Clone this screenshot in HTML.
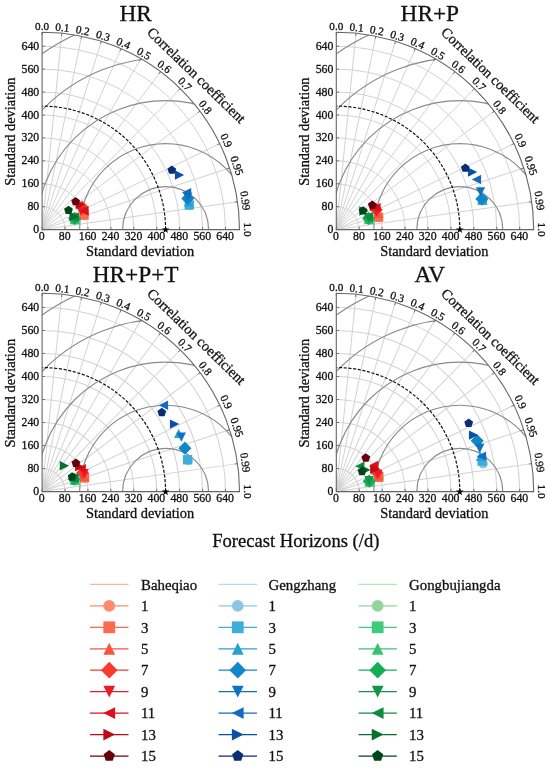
<!DOCTYPE html>
<html lang="en"><head><meta charset="utf-8"><title>Taylor diagrams - Forecast Horizons</title>
<style>html,body{margin:0;padding:0;background:#fff}body{width:550px;height:768px;overflow:hidden}svg{display:block}text{font-family:'Liberation Serif','Times New Roman',serif;stroke:#111;stroke-width:0.3px}</style></head><body>
<svg width="550" height="768" viewBox="0 0 550 768">
<rect width="550" height="768" fill="#fff"/>
<g>
<clipPath id="c0"><path d="M42.1 229.6 L239.5 229.6 A197.4 197.4 0 0 0 42.1 32.2 Z"/></clipPath>
<g clip-path="url(#c0)" fill="none">
<path d="M65.02 229.6 A22.92 22.92 0 0 0 42.1 206.68 M87.94 229.6 A45.84 45.84 0 0 0 42.1 183.76 M110.86 229.6 A68.76 68.76 0 0 0 42.1 160.84 M133.78 229.6 A91.68 91.68 0 0 0 42.1 137.92 M156.7 229.6 A114.6 114.6 0 0 0 42.1 115 M179.62 229.6 A137.52 137.52 0 0 0 42.1 92.08 M202.54 229.6 A160.44 160.44 0 0 0 42.1 69.16 M225.46 229.6 A183.36 183.36 0 0 0 42.1 46.24 M42.1 229.6 L61.84 33.19 M42.1 229.6 L81.58 36.19 M42.1 229.6 L101.32 41.29 M42.1 229.6 L121.06 48.68 M42.1 229.6 L140.8 58.65 M42.1 229.6 L160.54 71.68 M42.1 229.6 L180.28 88.63 M42.1 229.6 L200.02 111.16 M42.1 229.6 L219.76 143.56 M42.1 229.6 L229.63 167.96 M42.1 229.6 L237.53 201.75" stroke="#d2d2d2" stroke-width="1.0"/>
<path d="M208.56 229.6 A42.97 42.97 0 0 0 122.61 229.6 M251.53 229.6 A85.95 85.95 0 0 0 79.63 229.6 M294.51 229.6 A128.92 128.92 0 0 0 36.66 229.6 M337.48 229.6 A171.9 171.9 0 0 0 -6.32 229.6 M380.46 229.6 A214.87 214.87 0 0 0 -49.29 229.6" stroke="#8a8a8a" stroke-width="1.15"/>
<path d="M165.58 229.6 A123.48 123.48 0 0 0 42.1 106.12" stroke="#111" stroke-width="1.2" stroke-dasharray="3.1 1.6"/>
</g>
<circle cx="84" cy="215.3" r="4.65" fill="#fb8c6c"/>
<rect x="79.4" y="210.5" width="9.3" height="9.3" fill="#fc6b4d"/>
<polygon points="84.05,205.2 88.7,214.5 79.4,214.5" fill="#f8543e"/>
<polygon points="82.1,200.52 88.68,207.1 82.1,213.68 75.52,207.1" fill="#f43b2d"/>
<polygon points="81.05,215.8 85.7,206.5 76.4,206.5" fill="#ec1c24"/>
<polygon points="79.35,211 88.65,206.35 88.65,215.65" fill="#dd0f1c"/>
<polygon points="84.95,204.6 75.65,199.95 75.65,209.25" fill="#bd0c16"/>
<polygon points="75.6,196.95 80.02,200.16 78.33,205.36 72.87,205.36 71.18,200.16" fill="#67000d"/>
<circle cx="189.4" cy="205.5" r="4.65" fill="#8ec6e2"/>
<rect x="184.65" y="200.35" width="9.3" height="9.3" fill="#3dadda"/>
<polygon points="188.5,197.55 193.15,206.85 183.85,206.85" fill="#2a9fd3"/>
<polygon points="187.8,192.02 194.38,198.6 187.8,205.18 181.22,198.6" fill="#1088c7"/>
<polygon points="187.7,201.95 192.35,192.65 183.05,192.65" fill="#0f72c0"/>
<polygon points="181.95,192.6 191.25,187.95 191.25,197.25" fill="#136bbd"/>
<polygon points="184.15,175 174.85,170.35 174.85,179.65" fill="#0a4fa6"/>
<polygon points="171.8,165.45 176.22,168.66 174.53,173.86 169.07,173.86 167.38,168.66" fill="#0a2d73"/>
<circle cx="75" cy="220.2" r="4.65" fill="#90d69a"/>
<rect x="70.25" y="214.95" width="9.3" height="9.3" fill="#40cb7c"/>
<polygon points="74.8,214.35 79.45,223.65 70.15,223.65" fill="#34c472"/>
<polygon points="74.6,211.82 81.18,218.4 74.6,224.98 68.02,218.4" fill="#14ae56"/>
<polygon points="74.5,222.45 79.15,213.15 69.85,213.15" fill="#12954a"/>
<polygon points="69.65,217.2 78.95,212.55 78.95,221.85" fill="#0f8840"/>
<polygon points="78.75,216.6 69.45,211.95 69.45,221.25" fill="#07702e"/>
<polygon points="68.5,205.65 72.92,208.86 71.23,214.06 65.77,214.06 64.08,208.86" fill="#00441b"/>
<path d="M42.1 32.2 L42.1 229.6 L239.5 229.6 A197.4 197.4 0 0 0 42.1 32.2" fill="none" stroke="#666" stroke-width="1.1"/>
<path d="M42.1 229.6 v-2.8 M42.1 229.6 h2.8 M65.02 229.6 v-2.8 M42.1 206.68 h2.8 M87.94 229.6 v-2.8 M42.1 183.76 h2.8 M110.86 229.6 v-2.8 M42.1 160.84 h2.8 M133.78 229.6 v-2.8 M42.1 137.92 h2.8 M156.7 229.6 v-2.8 M42.1 115 h2.8 M179.62 229.6 v-2.8 M42.1 92.08 h2.8 M202.54 229.6 v-2.8 M42.1 69.16 h2.8 M225.46 229.6 v-2.8 M42.1 46.24 h2.8 M42.1 32.2 L42.1 35 M61.84 33.19 L61.56 35.98 M81.58 36.19 L81.02 38.93 M101.32 41.29 L100.48 43.96 M121.06 48.68 L119.94 51.25 M140.8 58.65 L139.4 61.07 M160.54 71.68 L158.86 73.92 M180.28 88.63 L178.32 90.63 M200.02 111.16 L197.78 112.84 M219.76 143.56 L217.24 144.78 M229.63 167.96 L226.97 168.84 M237.53 201.75 L234.75 202.15 M239.5 229.6 L236.7 229.6" fill="none" stroke="#646464" stroke-width="0.9"/>
<polygon points="165.58,225.7 166.5,228.53 169.48,228.53 167.07,230.28 167.99,233.12 165.58,231.37 163.17,233.12 164.09,230.28 161.68,228.53 164.66,228.53" fill="#000"/>
<g font-size="11.8" fill="#111">
<text x="41.8" y="240.2" text-anchor="middle">0</text>
<text x="39.2" y="233.1" text-anchor="end">0</text>
<text x="64.72" y="240.2" text-anchor="middle">80</text>
<text x="39.2" y="210.18" text-anchor="end">80</text>
<text x="87.64" y="240.2" text-anchor="middle">160</text>
<text x="39.2" y="187.26" text-anchor="end">160</text>
<text x="110.56" y="240.2" text-anchor="middle">240</text>
<text x="39.2" y="164.34" text-anchor="end">240</text>
<text x="133.48" y="240.2" text-anchor="middle">320</text>
<text x="39.2" y="141.42" text-anchor="end">320</text>
<text x="156.4" y="240.2" text-anchor="middle">400</text>
<text x="39.2" y="118.5" text-anchor="end">400</text>
<text x="179.32" y="240.2" text-anchor="middle">480</text>
<text x="39.2" y="95.58" text-anchor="end">480</text>
<text x="202.24" y="240.2" text-anchor="middle">560</text>
<text x="39.2" y="72.66" text-anchor="end">560</text>
<text x="225.16" y="240.2" text-anchor="middle">640</text>
<text x="39.2" y="49.74" text-anchor="end">640</text>
</g>
<g font-size="11.2" fill="#111" text-anchor="middle">
<text transform="translate(42.1 30.2) rotate(0)" x="0" y="0">0.0</text>
<text transform="translate(62.04 31.2) rotate(5.74)" x="0" y="0">0.1</text>
<text transform="translate(81.98 34.21) rotate(11.54)" x="0" y="0">0.2</text>
<text transform="translate(101.94 39.33) rotate(17.46)" x="0" y="0">0.3</text>
<text transform="translate(121.92 46.72) rotate(23.58)" x="0" y="0">0.4</text>
<text transform="translate(141.94 56.68) rotate(30)" x="0" y="0">0.5</text>
<text transform="translate(162.03 69.7) rotate(36.87)" x="0" y="0">0.6</text>
<text transform="translate(182.21 86.66) rotate(44.43)" x="0" y="0">0.7</text>
<text transform="translate(202.52 109.28) rotate(53.13)" x="0" y="0">0.8</text>
<text transform="translate(223 141.98) rotate(64.16)" x="0" y="0">0.9</text>
<text transform="translate(233.32 166.75) rotate(71.81)" x="0" y="0">0.95</text>
<text transform="translate(241.62 201.17) rotate(81.89)" x="0" y="0">0.99</text>
<text transform="translate(243.7 229.6) rotate(90)" x="0" y="0">1.0</text>
</g>
<text x="140.1" y="255.6" font-size="14.4" text-anchor="middle" fill="#111">Standard deviation</text>
<text transform="translate(15.1 131.6) rotate(-90)" font-size="14.4" text-anchor="middle" fill="#111">Standard deviation</text>
<text transform="translate(193.07 78.63) rotate(44)" font-size="14.4" text-anchor="middle" fill="#111">Correlation coefficient</text>
<text x="135.6" y="20.7" font-size="23.3" text-anchor="middle" fill="#111">HR</text>
</g>
<g>
<clipPath id="c1"><path d="M336.3 229.6 L533.7 229.6 A197.4 197.4 0 0 0 336.3 32.2 Z"/></clipPath>
<g clip-path="url(#c1)" fill="none">
<path d="M359.22 229.6 A22.92 22.92 0 0 0 336.3 206.68 M382.14 229.6 A45.84 45.84 0 0 0 336.3 183.76 M405.06 229.6 A68.76 68.76 0 0 0 336.3 160.84 M427.98 229.6 A91.68 91.68 0 0 0 336.3 137.92 M450.9 229.6 A114.6 114.6 0 0 0 336.3 115 M473.82 229.6 A137.52 137.52 0 0 0 336.3 92.08 M496.74 229.6 A160.44 160.44 0 0 0 336.3 69.16 M519.66 229.6 A183.36 183.36 0 0 0 336.3 46.24 M336.3 229.6 L356.04 33.19 M336.3 229.6 L375.78 36.19 M336.3 229.6 L395.52 41.29 M336.3 229.6 L415.26 48.68 M336.3 229.6 L435 58.65 M336.3 229.6 L454.74 71.68 M336.3 229.6 L474.48 88.63 M336.3 229.6 L494.22 111.16 M336.3 229.6 L513.96 143.56 M336.3 229.6 L523.83 167.96 M336.3 229.6 L531.73 201.75" stroke="#d2d2d2" stroke-width="1.0"/>
<path d="M502.76 229.6 A42.97 42.97 0 0 0 416.81 229.6 M545.73 229.6 A85.95 85.95 0 0 0 373.83 229.6 M588.71 229.6 A128.92 128.92 0 0 0 330.86 229.6 M631.68 229.6 A171.9 171.9 0 0 0 287.88 229.6 M674.66 229.6 A214.87 214.87 0 0 0 244.91 229.6" stroke="#8a8a8a" stroke-width="1.15"/>
<path d="M459.78 229.6 A123.48 123.48 0 0 0 336.3 106.12" stroke="#111" stroke-width="1.2" stroke-dasharray="3.1 1.6"/>
</g>
<circle cx="378.6" cy="217.3" r="4.65" fill="#fb8c6c"/>
<rect x="373.9" y="212.5" width="9.3" height="9.3" fill="#fc6b4d"/>
<polygon points="378.3,208.85 382.95,218.15 373.65,218.15" fill="#f8543e"/>
<polygon points="376.2,203.22 382.78,209.8 376.2,216.38 369.62,209.8" fill="#f43b2d"/>
<polygon points="376.6,216.85 381.25,207.55 371.95,207.55" fill="#ec1c24"/>
<polygon points="371.3,207.55 380.6,202.9 380.6,212.2" fill="#dd0f1c"/>
<polygon points="379.15,206.3 369.85,201.65 369.85,210.95" fill="#bd0c16"/>
<polygon points="372.3,200.45 376.72,203.66 375.03,208.86 369.57,208.86 367.88,203.66" fill="#67000d"/>
<circle cx="482.6" cy="200.8" r="4.65" fill="#8ec6e2"/>
<rect x="477.85" y="195.65" width="9.3" height="9.3" fill="#3dadda"/>
<polygon points="482,194.95 486.65,204.25 477.35,204.25" fill="#2a9fd3"/>
<polygon points="481.8,192.42 488.38,199 481.8,205.58 475.22,199" fill="#1088c7"/>
<polygon points="480.5,196.55 485.15,187.25 475.85,187.25" fill="#0f72c0"/>
<polygon points="471.85,179.5 481.15,174.85 481.15,184.15" fill="#136bbd"/>
<polygon points="477.25,172.1 467.95,167.45 467.95,176.75" fill="#0a4fa6"/>
<polygon points="465.3,163.45 469.72,166.66 468.03,171.86 462.57,171.86 460.88,166.66" fill="#0a2d73"/>
<circle cx="369" cy="219.9" r="4.65" fill="#90d69a"/>
<rect x="364.35" y="214.85" width="9.3" height="9.3" fill="#40cb7c"/>
<polygon points="368.9,214.35 373.55,223.65 364.25,223.65" fill="#34c472"/>
<polygon points="368.65,211.82 375.23,218.4 368.65,224.98 362.07,218.4" fill="#14ae56"/>
<polygon points="368.6,222.35 373.25,213.05 363.95,213.05" fill="#12954a"/>
<polygon points="363.75,217.3 373.05,212.65 373.05,221.95" fill="#0f8840"/>
<polygon points="368.6,211 359.3,206.35 359.3,215.65" fill="#07702e"/>
<polygon points="363,206.15 367.42,209.36 365.73,214.56 360.27,214.56 358.58,209.36" fill="#00441b"/>
<path d="M336.3 32.2 L336.3 229.6 L533.7 229.6 A197.4 197.4 0 0 0 336.3 32.2" fill="none" stroke="#666" stroke-width="1.1"/>
<path d="M336.3 229.6 v-2.8 M336.3 229.6 h2.8 M359.22 229.6 v-2.8 M336.3 206.68 h2.8 M382.14 229.6 v-2.8 M336.3 183.76 h2.8 M405.06 229.6 v-2.8 M336.3 160.84 h2.8 M427.98 229.6 v-2.8 M336.3 137.92 h2.8 M450.9 229.6 v-2.8 M336.3 115 h2.8 M473.82 229.6 v-2.8 M336.3 92.08 h2.8 M496.74 229.6 v-2.8 M336.3 69.16 h2.8 M519.66 229.6 v-2.8 M336.3 46.24 h2.8 M336.3 32.2 L336.3 35 M356.04 33.19 L355.76 35.98 M375.78 36.19 L375.22 38.93 M395.52 41.29 L394.68 43.96 M415.26 48.68 L414.14 51.25 M435 58.65 L433.6 61.07 M454.74 71.68 L453.06 73.92 M474.48 88.63 L472.52 90.63 M494.22 111.16 L491.98 112.84 M513.96 143.56 L511.44 144.78 M523.83 167.96 L521.17 168.84 M531.73 201.75 L528.95 202.15 M533.7 229.6 L530.9 229.6" fill="none" stroke="#646464" stroke-width="0.9"/>
<polygon points="459.78,225.7 460.7,228.53 463.68,228.53 461.27,230.28 462.19,233.12 459.78,231.37 457.37,233.12 458.29,230.28 455.88,228.53 458.86,228.53" fill="#000"/>
<g font-size="11.8" fill="#111">
<text x="336" y="240.2" text-anchor="middle">0</text>
<text x="333.4" y="233.1" text-anchor="end">0</text>
<text x="358.92" y="240.2" text-anchor="middle">80</text>
<text x="333.4" y="210.18" text-anchor="end">80</text>
<text x="381.84" y="240.2" text-anchor="middle">160</text>
<text x="333.4" y="187.26" text-anchor="end">160</text>
<text x="404.76" y="240.2" text-anchor="middle">240</text>
<text x="333.4" y="164.34" text-anchor="end">240</text>
<text x="427.68" y="240.2" text-anchor="middle">320</text>
<text x="333.4" y="141.42" text-anchor="end">320</text>
<text x="450.6" y="240.2" text-anchor="middle">400</text>
<text x="333.4" y="118.5" text-anchor="end">400</text>
<text x="473.52" y="240.2" text-anchor="middle">480</text>
<text x="333.4" y="95.58" text-anchor="end">480</text>
<text x="496.44" y="240.2" text-anchor="middle">560</text>
<text x="333.4" y="72.66" text-anchor="end">560</text>
<text x="519.36" y="240.2" text-anchor="middle">640</text>
<text x="333.4" y="49.74" text-anchor="end">640</text>
</g>
<g font-size="11.2" fill="#111" text-anchor="middle">
<text transform="translate(336.3 30.2) rotate(0)" x="0" y="0">0.0</text>
<text transform="translate(356.24 31.2) rotate(5.74)" x="0" y="0">0.1</text>
<text transform="translate(376.18 34.21) rotate(11.54)" x="0" y="0">0.2</text>
<text transform="translate(396.14 39.33) rotate(17.46)" x="0" y="0">0.3</text>
<text transform="translate(416.12 46.72) rotate(23.58)" x="0" y="0">0.4</text>
<text transform="translate(436.14 56.68) rotate(30)" x="0" y="0">0.5</text>
<text transform="translate(456.23 69.7) rotate(36.87)" x="0" y="0">0.6</text>
<text transform="translate(476.41 86.66) rotate(44.43)" x="0" y="0">0.7</text>
<text transform="translate(496.72 109.28) rotate(53.13)" x="0" y="0">0.8</text>
<text transform="translate(517.2 141.98) rotate(64.16)" x="0" y="0">0.9</text>
<text transform="translate(527.52 166.75) rotate(71.81)" x="0" y="0">0.95</text>
<text transform="translate(535.82 201.17) rotate(81.89)" x="0" y="0">0.99</text>
<text transform="translate(537.9 229.6) rotate(90)" x="0" y="0">1.0</text>
</g>
<text x="434.3" y="255.6" font-size="14.4" text-anchor="middle" fill="#111">Standard deviation</text>
<text transform="translate(309.3 131.6) rotate(-90)" font-size="14.4" text-anchor="middle" fill="#111">Standard deviation</text>
<text transform="translate(487.27 78.63) rotate(44)" font-size="14.4" text-anchor="middle" fill="#111">Correlation coefficient</text>
<text x="429.8" y="20.7" font-size="23.3" text-anchor="middle" fill="#111">HR+P</text>
</g>
<g transform="translate(0 491.6) scale(1 1.0045) translate(0 -491.6)">
<clipPath id="c2"><path d="M42.1 491.6 L239.5 491.6 A197.4 197.4 0 0 0 42.1 294.2 Z"/></clipPath>
<g clip-path="url(#c2)" fill="none">
<path d="M65.02 491.6 A22.92 22.92 0 0 0 42.1 468.68 M87.94 491.6 A45.84 45.84 0 0 0 42.1 445.76 M110.86 491.6 A68.76 68.76 0 0 0 42.1 422.84 M133.78 491.6 A91.68 91.68 0 0 0 42.1 399.92 M156.7 491.6 A114.6 114.6 0 0 0 42.1 377 M179.62 491.6 A137.52 137.52 0 0 0 42.1 354.08 M202.54 491.6 A160.44 160.44 0 0 0 42.1 331.16 M225.46 491.6 A183.36 183.36 0 0 0 42.1 308.24 M42.1 491.6 L61.84 295.19 M42.1 491.6 L81.58 298.19 M42.1 491.6 L101.32 303.29 M42.1 491.6 L121.06 310.68 M42.1 491.6 L140.8 320.65 M42.1 491.6 L160.54 333.68 M42.1 491.6 L180.28 350.63 M42.1 491.6 L200.02 373.16 M42.1 491.6 L219.76 405.56 M42.1 491.6 L229.63 429.96 M42.1 491.6 L237.53 463.75" stroke="#d2d2d2" stroke-width="1.0"/>
<path d="M208.56 491.6 A42.97 42.97 0 0 0 122.61 491.6 M251.53 491.6 A85.95 85.95 0 0 0 79.63 491.6 M294.51 491.6 A128.92 128.92 0 0 0 36.66 491.6 M337.48 491.6 A171.9 171.9 0 0 0 -6.32 491.6 M380.46 491.6 A214.87 214.87 0 0 0 -49.29 491.6" stroke="#8a8a8a" stroke-width="1.15"/>
<path d="M165.58 491.6 A123.48 123.48 0 0 0 42.1 368.12" stroke="#111" stroke-width="1.2" stroke-dasharray="3.1 1.6"/>
</g>
<circle cx="84.6" cy="478.1" r="4.65" fill="#fb8c6c"/>
<rect x="79.9" y="473.2" width="9.3" height="9.3" fill="#fc6b4d"/>
<polygon points="84.3,471.85 88.95,481.15 79.65,481.15" fill="#f8543e"/>
<polygon points="82.5,466.42 89.08,473 82.5,479.58 75.92,473" fill="#f43b2d"/>
<polygon points="84.15,478.4 88.8,469.1 79.5,469.1" fill="#ec1c24"/>
<polygon points="76.6,468.65 85.9,464 85.9,473.3" fill="#dd0f1c"/>
<polygon points="84.35,466.8 75.05,462.15 75.05,471.45" fill="#bd0c16"/>
<polygon points="75.95,458.65 80.37,461.86 78.68,467.06 73.22,467.06 71.53,461.86" fill="#67000d"/>
<circle cx="188.2" cy="460.6" r="4.65" fill="#8ec6e2"/>
<rect x="182.95" y="455.25" width="9.3" height="9.3" fill="#3dadda"/>
<polygon points="178.7,428.95 183.35,438.25 174.05,438.25" fill="#2a9fd3"/>
<polygon points="184.9,441.82 191.48,448.4 184.9,454.98 178.32,448.4" fill="#1088c7"/>
<polygon points="181.3,441.95 185.95,432.65 176.65,432.65" fill="#0f72c0"/>
<polygon points="158.85,405.6 168.15,400.95 168.15,410.25" fill="#136bbd"/>
<polygon points="179.25,424.4 169.95,419.75 169.95,429.05" fill="#0a4fa6"/>
<polygon points="161.8,408.25 166.22,411.46 164.53,416.66 159.07,416.66 157.38,411.46" fill="#0a2d73"/>
<circle cx="75" cy="480.6" r="4.65" fill="#90d69a"/>
<rect x="70.25" y="475.65" width="9.3" height="9.3" fill="#40cb7c"/>
<polygon points="74.7,475.15 79.35,484.45 70.05,484.45" fill="#34c472"/>
<polygon points="74.2,472.52 80.78,479.1 74.2,485.68 67.62,479.1" fill="#14ae56"/>
<polygon points="74.2,483.45 78.85,474.15 69.55,474.15" fill="#12954a"/>
<polygon points="69.25,478.5 78.55,473.85 78.55,483.15" fill="#0f8840"/>
<polygon points="69.05,465.9 59.75,461.25 59.75,470.55" fill="#07702e"/>
<polygon points="72.1,472.45 76.52,475.66 74.83,480.86 69.37,480.86 67.68,475.66" fill="#00441b"/>
<path d="M42.1 294.2 L42.1 491.6 L239.5 491.6 A197.4 197.4 0 0 0 42.1 294.2" fill="none" stroke="#666" stroke-width="1.1"/>
<path d="M42.1 491.6 v-2.8 M42.1 491.6 h2.8 M65.02 491.6 v-2.8 M42.1 468.68 h2.8 M87.94 491.6 v-2.8 M42.1 445.76 h2.8 M110.86 491.6 v-2.8 M42.1 422.84 h2.8 M133.78 491.6 v-2.8 M42.1 399.92 h2.8 M156.7 491.6 v-2.8 M42.1 377 h2.8 M179.62 491.6 v-2.8 M42.1 354.08 h2.8 M202.54 491.6 v-2.8 M42.1 331.16 h2.8 M225.46 491.6 v-2.8 M42.1 308.24 h2.8 M42.1 294.2 L42.1 297 M61.84 295.19 L61.56 297.98 M81.58 298.19 L81.02 300.93 M101.32 303.29 L100.48 305.96 M121.06 310.68 L119.94 313.25 M140.8 320.65 L139.4 323.07 M160.54 333.68 L158.86 335.92 M180.28 350.63 L178.32 352.63 M200.02 373.16 L197.78 374.84 M219.76 405.56 L217.24 406.78 M229.63 429.96 L226.97 430.84 M237.53 463.75 L234.75 464.15 M239.5 491.6 L236.7 491.6" fill="none" stroke="#646464" stroke-width="0.9"/>
<polygon points="165.58,487.7 166.5,490.53 169.48,490.53 167.07,492.28 167.99,495.12 165.58,493.37 163.17,495.12 164.09,492.28 161.68,490.53 164.66,490.53" fill="#000"/>
<g font-size="11.8" fill="#111">
<text x="41.8" y="502.2" text-anchor="middle">0</text>
<text x="39.2" y="495.1" text-anchor="end">0</text>
<text x="64.72" y="502.2" text-anchor="middle">80</text>
<text x="39.2" y="472.18" text-anchor="end">80</text>
<text x="87.64" y="502.2" text-anchor="middle">160</text>
<text x="39.2" y="449.26" text-anchor="end">160</text>
<text x="110.56" y="502.2" text-anchor="middle">240</text>
<text x="39.2" y="426.34" text-anchor="end">240</text>
<text x="133.48" y="502.2" text-anchor="middle">320</text>
<text x="39.2" y="403.42" text-anchor="end">320</text>
<text x="156.4" y="502.2" text-anchor="middle">400</text>
<text x="39.2" y="380.5" text-anchor="end">400</text>
<text x="179.32" y="502.2" text-anchor="middle">480</text>
<text x="39.2" y="357.58" text-anchor="end">480</text>
<text x="202.24" y="502.2" text-anchor="middle">560</text>
<text x="39.2" y="334.66" text-anchor="end">560</text>
<text x="225.16" y="502.2" text-anchor="middle">640</text>
<text x="39.2" y="311.74" text-anchor="end">640</text>
</g>
<g font-size="11.2" fill="#111" text-anchor="middle">
<text transform="translate(42.1 292.2) rotate(0)" x="0" y="0">0.0</text>
<text transform="translate(62.04 293.2) rotate(5.74)" x="0" y="0">0.1</text>
<text transform="translate(81.98 296.21) rotate(11.54)" x="0" y="0">0.2</text>
<text transform="translate(101.94 301.33) rotate(17.46)" x="0" y="0">0.3</text>
<text transform="translate(121.92 308.72) rotate(23.58)" x="0" y="0">0.4</text>
<text transform="translate(141.94 318.68) rotate(30)" x="0" y="0">0.5</text>
<text transform="translate(162.03 331.7) rotate(36.87)" x="0" y="0">0.6</text>
<text transform="translate(182.21 348.66) rotate(44.43)" x="0" y="0">0.7</text>
<text transform="translate(202.52 371.28) rotate(53.13)" x="0" y="0">0.8</text>
<text transform="translate(223 403.98) rotate(64.16)" x="0" y="0">0.9</text>
<text transform="translate(233.32 428.75) rotate(71.81)" x="0" y="0">0.95</text>
<text transform="translate(241.62 463.17) rotate(81.89)" x="0" y="0">0.99</text>
<text transform="translate(243.7 491.6) rotate(90)" x="0" y="0">1.0</text>
</g>
<text x="140.1" y="517.6" font-size="14.4" text-anchor="middle" fill="#111">Standard deviation</text>
<text transform="translate(15.1 393.6) rotate(-90)" font-size="14.4" text-anchor="middle" fill="#111">Standard deviation</text>
<text transform="translate(193.07 340.63) rotate(44)" font-size="14.4" text-anchor="middle" fill="#111">Correlation coefficient</text>
<text x="135.6" y="282.7" font-size="23.3" text-anchor="middle" fill="#111">HR+P+T</text>
</g>
<g transform="translate(0 491.6) scale(1 1.0045) translate(0 -491.6)">
<clipPath id="c3"><path d="M336.3 491.6 L533.7 491.6 A197.4 197.4 0 0 0 336.3 294.2 Z"/></clipPath>
<g clip-path="url(#c3)" fill="none">
<path d="M359.22 491.6 A22.92 22.92 0 0 0 336.3 468.68 M382.14 491.6 A45.84 45.84 0 0 0 336.3 445.76 M405.06 491.6 A68.76 68.76 0 0 0 336.3 422.84 M427.98 491.6 A91.68 91.68 0 0 0 336.3 399.92 M450.9 491.6 A114.6 114.6 0 0 0 336.3 377 M473.82 491.6 A137.52 137.52 0 0 0 336.3 354.08 M496.74 491.6 A160.44 160.44 0 0 0 336.3 331.16 M519.66 491.6 A183.36 183.36 0 0 0 336.3 308.24 M336.3 491.6 L356.04 295.19 M336.3 491.6 L375.78 298.19 M336.3 491.6 L395.52 303.29 M336.3 491.6 L415.26 310.68 M336.3 491.6 L435 320.65 M336.3 491.6 L454.74 333.68 M336.3 491.6 L474.48 350.63 M336.3 491.6 L494.22 373.16 M336.3 491.6 L513.96 405.56 M336.3 491.6 L523.83 429.96 M336.3 491.6 L531.73 463.75" stroke="#d2d2d2" stroke-width="1.0"/>
<path d="M502.76 491.6 A42.97 42.97 0 0 0 416.81 491.6 M545.73 491.6 A85.95 85.95 0 0 0 373.83 491.6 M588.71 491.6 A128.92 128.92 0 0 0 330.86 491.6 M631.68 491.6 A171.9 171.9 0 0 0 287.88 491.6 M674.66 491.6 A214.87 214.87 0 0 0 244.91 491.6" stroke="#8a8a8a" stroke-width="1.15"/>
<path d="M459.78 491.6 A123.48 123.48 0 0 0 336.3 368.12" stroke="#111" stroke-width="1.2" stroke-dasharray="3.1 1.6"/>
</g>
<circle cx="378.9" cy="477.5" r="4.65" fill="#fb8c6c"/>
<rect x="374.2" y="472.7" width="9.3" height="9.3" fill="#fc6b4d"/>
<polygon points="378.5,471.15 383.15,480.45 373.85,480.45" fill="#f8543e"/>
<polygon points="376.8,465.92 383.38,472.5 376.8,479.08 370.22,472.5" fill="#f43b2d"/>
<polygon points="377.8,479.25 382.45,469.95 373.15,469.95" fill="#ec1c24"/>
<polygon points="369.1,465.5 378.4,460.85 378.4,470.15" fill="#dd0f1c"/>
<polygon points="379.45,469.3 370.15,464.65 370.15,473.95" fill="#bd0c16"/>
<polygon points="365.8,453.5 370.22,456.71 368.53,461.91 363.07,461.91 361.38,456.71" fill="#67000d"/>
<circle cx="483.2" cy="464" r="4.65" fill="#8ec6e2"/>
<rect x="477.45" y="456.65" width="9.3" height="9.3" fill="#3dadda"/>
<polygon points="480.5,451.85 485.15,461.15 475.85,461.15" fill="#2a9fd3"/>
<polygon points="477.2,434.52 483.78,441.1 477.2,447.68 470.62,441.1" fill="#1088c7"/>
<polygon points="479.7,453.35 484.35,444.05 475.05,444.05" fill="#0f72c0"/>
<polygon points="476.85,456.3 486.15,451.65 486.15,460.95" fill="#136bbd"/>
<polygon points="478.25,435.3 468.95,430.65 468.95,439.95" fill="#0a4fa6"/>
<polygon points="468.7,418.95 473.12,422.16 471.43,427.36 465.97,427.36 464.28,422.16" fill="#0a2d73"/>
<circle cx="369.6" cy="482.4" r="4.65" fill="#90d69a"/>
<rect x="364.85" y="477.35" width="9.3" height="9.3" fill="#40cb7c"/>
<polygon points="369.4,476.95 374.05,486.25 364.75,486.25" fill="#34c472"/>
<polygon points="369.25,474.62 375.83,481.2 369.25,487.78 362.67,481.2" fill="#14ae56"/>
<polygon points="369.1,485.25 373.75,475.95 364.45,475.95" fill="#12954a"/>
<polygon points="355.15,466.3 364.45,461.65 364.45,470.95" fill="#0f8840"/>
<polygon points="370.55,470 361.25,465.35 361.25,474.65" fill="#07702e"/>
<polygon points="362,466.85 366.42,470.06 364.73,475.26 359.27,475.26 357.58,470.06" fill="#00441b"/>
<path d="M336.3 294.2 L336.3 491.6 L533.7 491.6 A197.4 197.4 0 0 0 336.3 294.2" fill="none" stroke="#666" stroke-width="1.1"/>
<path d="M336.3 491.6 v-2.8 M336.3 491.6 h2.8 M359.22 491.6 v-2.8 M336.3 468.68 h2.8 M382.14 491.6 v-2.8 M336.3 445.76 h2.8 M405.06 491.6 v-2.8 M336.3 422.84 h2.8 M427.98 491.6 v-2.8 M336.3 399.92 h2.8 M450.9 491.6 v-2.8 M336.3 377 h2.8 M473.82 491.6 v-2.8 M336.3 354.08 h2.8 M496.74 491.6 v-2.8 M336.3 331.16 h2.8 M519.66 491.6 v-2.8 M336.3 308.24 h2.8 M336.3 294.2 L336.3 297 M356.04 295.19 L355.76 297.98 M375.78 298.19 L375.22 300.93 M395.52 303.29 L394.68 305.96 M415.26 310.68 L414.14 313.25 M435 320.65 L433.6 323.07 M454.74 333.68 L453.06 335.92 M474.48 350.63 L472.52 352.63 M494.22 373.16 L491.98 374.84 M513.96 405.56 L511.44 406.78 M523.83 429.96 L521.17 430.84 M531.73 463.75 L528.95 464.15 M533.7 491.6 L530.9 491.6" fill="none" stroke="#646464" stroke-width="0.9"/>
<polygon points="459.78,487.7 460.7,490.53 463.68,490.53 461.27,492.28 462.19,495.12 459.78,493.37 457.37,495.12 458.29,492.28 455.88,490.53 458.86,490.53" fill="#000"/>
<g font-size="11.8" fill="#111">
<text x="336" y="502.2" text-anchor="middle">0</text>
<text x="333.4" y="495.1" text-anchor="end">0</text>
<text x="358.92" y="502.2" text-anchor="middle">80</text>
<text x="333.4" y="472.18" text-anchor="end">80</text>
<text x="381.84" y="502.2" text-anchor="middle">160</text>
<text x="333.4" y="449.26" text-anchor="end">160</text>
<text x="404.76" y="502.2" text-anchor="middle">240</text>
<text x="333.4" y="426.34" text-anchor="end">240</text>
<text x="427.68" y="502.2" text-anchor="middle">320</text>
<text x="333.4" y="403.42" text-anchor="end">320</text>
<text x="450.6" y="502.2" text-anchor="middle">400</text>
<text x="333.4" y="380.5" text-anchor="end">400</text>
<text x="473.52" y="502.2" text-anchor="middle">480</text>
<text x="333.4" y="357.58" text-anchor="end">480</text>
<text x="496.44" y="502.2" text-anchor="middle">560</text>
<text x="333.4" y="334.66" text-anchor="end">560</text>
<text x="519.36" y="502.2" text-anchor="middle">640</text>
<text x="333.4" y="311.74" text-anchor="end">640</text>
</g>
<g font-size="11.2" fill="#111" text-anchor="middle">
<text transform="translate(336.3 292.2) rotate(0)" x="0" y="0">0.0</text>
<text transform="translate(356.24 293.2) rotate(5.74)" x="0" y="0">0.1</text>
<text transform="translate(376.18 296.21) rotate(11.54)" x="0" y="0">0.2</text>
<text transform="translate(396.14 301.33) rotate(17.46)" x="0" y="0">0.3</text>
<text transform="translate(416.12 308.72) rotate(23.58)" x="0" y="0">0.4</text>
<text transform="translate(436.14 318.68) rotate(30)" x="0" y="0">0.5</text>
<text transform="translate(456.23 331.7) rotate(36.87)" x="0" y="0">0.6</text>
<text transform="translate(476.41 348.66) rotate(44.43)" x="0" y="0">0.7</text>
<text transform="translate(496.72 371.28) rotate(53.13)" x="0" y="0">0.8</text>
<text transform="translate(517.2 403.98) rotate(64.16)" x="0" y="0">0.9</text>
<text transform="translate(527.52 428.75) rotate(71.81)" x="0" y="0">0.95</text>
<text transform="translate(535.82 463.17) rotate(81.89)" x="0" y="0">0.99</text>
<text transform="translate(537.9 491.6) rotate(90)" x="0" y="0">1.0</text>
</g>
<text x="434.3" y="517.6" font-size="14.4" text-anchor="middle" fill="#111">Standard deviation</text>
<text transform="translate(309.3 393.6) rotate(-90)" font-size="14.4" text-anchor="middle" fill="#111">Standard deviation</text>
<text transform="translate(487.27 340.63) rotate(44)" font-size="14.4" text-anchor="middle" fill="#111">Correlation coefficient</text>
<text x="429.8" y="282.7" font-size="23.3" text-anchor="middle" fill="#111">AV</text>
</g>
<text x="295.8" y="547" font-size="18.6" text-anchor="middle" fill="#111">Forecast Horizons (/d)</text>
<g font-size="14.85" fill="#111">
<line x1="90" y1="584.4" x2="128.5" y2="584.4" stroke="#fcb59b" stroke-width="1.1"/>
<text x="141" y="589.6">Baheqiao</text>
<line x1="90" y1="605.85" x2="128.5" y2="605.85" stroke="#fb8c6c" stroke-width="1.25"/>
<circle cx="109.25" cy="605.85" r="5.9" fill="#fb8c6c"/>
<text x="141" y="611.05">1</text>
<line x1="90" y1="627.3" x2="128.5" y2="627.3" stroke="#fc6b4d" stroke-width="1.25"/>
<rect x="103.35" y="621.4" width="11.8" height="11.8" fill="#fc6b4d"/>
<text x="141" y="632.5">3</text>
<line x1="90" y1="648.75" x2="128.5" y2="648.75" stroke="#f8543e" stroke-width="1.25"/>
<polygon points="109.25,642.85 115.15,654.65 103.35,654.65" fill="#f8543e"/>
<text x="141" y="653.95">5</text>
<line x1="90" y1="670.2" x2="128.5" y2="670.2" stroke="#f43b2d" stroke-width="1.25"/>
<polygon points="109.25,661.86 117.59,670.2 109.25,678.54 100.91,670.2" fill="#f43b2d"/>
<text x="141" y="675.4">7</text>
<line x1="90" y1="691.65" x2="128.5" y2="691.65" stroke="#ec1c24" stroke-width="1.25"/>
<polygon points="109.25,697.55 115.15,685.75 103.35,685.75" fill="#ec1c24"/>
<text x="141" y="696.85">9</text>
<line x1="90" y1="713.1" x2="128.5" y2="713.1" stroke="#dd0f1c" stroke-width="1.25"/>
<polygon points="103.35,713.1 115.15,707.2 115.15,719" fill="#dd0f1c"/>
<text x="141" y="718.3">11</text>
<line x1="90" y1="734.55" x2="128.5" y2="734.55" stroke="#bd0c16" stroke-width="1.25"/>
<polygon points="115.15,734.55 103.35,728.65 103.35,740.45" fill="#bd0c16"/>
<text x="141" y="739.75">13</text>
<line x1="90" y1="756" x2="128.5" y2="756" stroke="#67000d" stroke-width="1.25"/>
<polygon points="109.25,750.1 114.86,754.18 112.72,760.77 105.78,760.77 103.64,754.18" fill="#67000d"/>
<text x="141" y="761.2">15</text>
</g>
<g font-size="14.85" fill="#111">
<line x1="218.5" y1="584.4" x2="257" y2="584.4" stroke="#b5daee" stroke-width="1.1"/>
<text x="268.5" y="589.6">Gengzhang</text>
<line x1="218.5" y1="605.85" x2="257" y2="605.85" stroke="#8ec6e2" stroke-width="1.25"/>
<circle cx="237.75" cy="605.85" r="5.9" fill="#8ec6e2"/>
<text x="268.5" y="611.05">1</text>
<line x1="218.5" y1="627.3" x2="257" y2="627.3" stroke="#3dadda" stroke-width="1.25"/>
<rect x="231.85" y="621.4" width="11.8" height="11.8" fill="#3dadda"/>
<text x="268.5" y="632.5">3</text>
<line x1="218.5" y1="648.75" x2="257" y2="648.75" stroke="#2a9fd3" stroke-width="1.25"/>
<polygon points="237.75,642.85 243.65,654.65 231.85,654.65" fill="#2a9fd3"/>
<text x="268.5" y="653.95">5</text>
<line x1="218.5" y1="670.2" x2="257" y2="670.2" stroke="#1088c7" stroke-width="1.25"/>
<polygon points="237.75,661.86 246.09,670.2 237.75,678.54 229.41,670.2" fill="#1088c7"/>
<text x="268.5" y="675.4">7</text>
<line x1="218.5" y1="691.65" x2="257" y2="691.65" stroke="#0f72c0" stroke-width="1.25"/>
<polygon points="237.75,697.55 243.65,685.75 231.85,685.75" fill="#0f72c0"/>
<text x="268.5" y="696.85">9</text>
<line x1="218.5" y1="713.1" x2="257" y2="713.1" stroke="#136bbd" stroke-width="1.25"/>
<polygon points="231.85,713.1 243.65,707.2 243.65,719" fill="#136bbd"/>
<text x="268.5" y="718.3">11</text>
<line x1="218.5" y1="734.55" x2="257" y2="734.55" stroke="#0a4fa6" stroke-width="1.25"/>
<polygon points="243.65,734.55 231.85,728.65 231.85,740.45" fill="#0a4fa6"/>
<text x="268.5" y="739.75">13</text>
<line x1="218.5" y1="756" x2="257" y2="756" stroke="#0a2d73" stroke-width="1.25"/>
<polygon points="237.75,750.1 243.36,754.18 241.22,760.77 234.28,760.77 232.14,754.18" fill="#0a2d73"/>
<text x="268.5" y="761.2">15</text>
</g>
<g font-size="14.85" fill="#111">
<line x1="358.5" y1="584.4" x2="396.8" y2="584.4" stroke="#b5e6b8" stroke-width="1.1"/>
<text x="409" y="589.6">Gongbujiangda</text>
<line x1="358.5" y1="605.85" x2="396.8" y2="605.85" stroke="#90d69a" stroke-width="1.25"/>
<circle cx="377.65" cy="605.85" r="5.9" fill="#90d69a"/>
<text x="409" y="611.05">1</text>
<line x1="358.5" y1="627.3" x2="396.8" y2="627.3" stroke="#40cb7c" stroke-width="1.25"/>
<rect x="371.75" y="621.4" width="11.8" height="11.8" fill="#40cb7c"/>
<text x="409" y="632.5">3</text>
<line x1="358.5" y1="648.75" x2="396.8" y2="648.75" stroke="#34c472" stroke-width="1.25"/>
<polygon points="377.65,642.85 383.55,654.65 371.75,654.65" fill="#34c472"/>
<text x="409" y="653.95">5</text>
<line x1="358.5" y1="670.2" x2="396.8" y2="670.2" stroke="#14ae56" stroke-width="1.25"/>
<polygon points="377.65,661.86 385.99,670.2 377.65,678.54 369.31,670.2" fill="#14ae56"/>
<text x="409" y="675.4">7</text>
<line x1="358.5" y1="691.65" x2="396.8" y2="691.65" stroke="#12954a" stroke-width="1.25"/>
<polygon points="377.65,697.55 383.55,685.75 371.75,685.75" fill="#12954a"/>
<text x="409" y="696.85">9</text>
<line x1="358.5" y1="713.1" x2="396.8" y2="713.1" stroke="#0f8840" stroke-width="1.25"/>
<polygon points="371.75,713.1 383.55,707.2 383.55,719" fill="#0f8840"/>
<text x="409" y="718.3">11</text>
<line x1="358.5" y1="734.55" x2="396.8" y2="734.55" stroke="#07702e" stroke-width="1.25"/>
<polygon points="383.55,734.55 371.75,728.65 371.75,740.45" fill="#07702e"/>
<text x="409" y="739.75">13</text>
<line x1="358.5" y1="756" x2="396.8" y2="756" stroke="#00441b" stroke-width="1.25"/>
<polygon points="377.65,750.1 383.26,754.18 381.12,760.77 374.18,760.77 372.04,754.18" fill="#00441b"/>
<text x="409" y="761.2">15</text>
</g>
</svg></body></html>
